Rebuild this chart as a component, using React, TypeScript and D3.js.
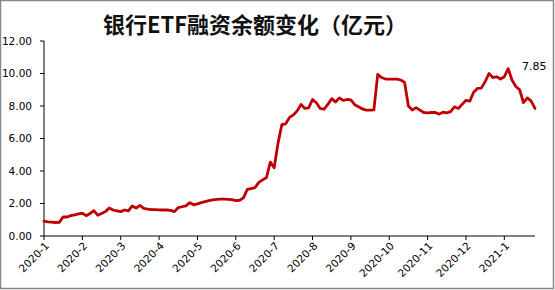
import React from "react";
import * as d3 from "d3";

const title = "银行ETF融资余额变化（亿元）";
const monthLabels = [
  "2020-1", "2020-2", "2020-3", "2020-4", "2020-5", "2020-6", "2020-7",
  "2020-8", "2020-9", "2020-10", "2020-11", "2020-12", "2021-1",
];
const yTicks = [0, 2, 4, 6, 8, 10, 12];
const balance = [
  0.92, 0.87, 0.85, 0.83, 0.84, 1.18, 1.17, 1.25, 1.3, 1.36,
  1.4, 1.25, 1.38, 1.56, 1.28, 1.38, 1.5, 1.72, 1.6, 1.55,
  1.5, 1.6, 1.55, 1.85, 1.72, 1.88, 1.7, 1.65, 1.62, 1.62,
  1.61, 1.6, 1.6, 1.58, 1.5, 1.75, 1.8, 1.85, 2.05, 1.92,
  1.98, 2.05, 2.12, 2.18, 2.22, 2.25, 2.27, 2.27, 2.26, 2.24,
  2.18, 2.2, 2.35, 2.87, 2.92, 2.97, 3.3, 3.45, 3.6, 4.55,
  4.2, 5.7, 6.85, 6.9, 7.3, 7.45, 7.7, 8.1, 7.85, 7.88,
  8.4, 8.2, 7.85, 7.8, 8.1, 8.45, 8.25, 8.5, 8.35, 8.4,
  8.38, 8.08, 7.95, 7.82, 7.75, 7.75, 7.76, 9.95, 9.75, 9.66,
  9.66, 9.66, 9.65, 9.6, 9.45, 8.0, 7.75, 7.9, 7.75, 7.6,
  7.58, 7.6, 7.6, 7.5, 7.62, 7.58, 7.65, 7.95, 7.85, 8.1,
  8.35, 8.3, 8.85, 9.08, 9.1, 9.5, 10.0, 9.75, 9.8, 9.66,
  9.8, 10.3, 9.6, 9.2, 9.0, 8.2, 8.5, 8.3, 7.85,
];
const lastLabel = "7.85";
const pointsPerMonth = 10;

const W = 555;
const H = 290;
const left = 44;
const right = 535;
const top = 41;
const bottom = 236;

export default function App() {
  const x = d3.scaleLinear().domain([0, balance.length - 1]).range([left, right]);
  const y = d3.scaleLinear().domain([0, 12]).range([bottom, top]);
  const line = d3
    .line<number>()
    .x((_, i) => x(i))
    .y((d) => y(d));
  const font = "Tahoma, 'DejaVu Sans', sans-serif";
  const lastI = balance.length - 1;

  return (
    <svg
      width={W}
      height={H}
      style={{ position: "absolute", left: 0, top: 0, background: "#fff" }}
    >
      <rect x={0.5} y={0.5} width={553} height={288} fill="#fff" stroke="#888" strokeWidth={1.5} />
      <text
        x={255}
        y={33}
        textAnchor="middle"
        fontFamily="'Noto Sans CJK SC', sans-serif"
        fontWeight={700}
        fontSize={22}
        fill="#111"
      >
        {title}
      </text>
      {/* y axis */}
      <line x1={left} x2={left} y1={top} y2={bottom} stroke="#000" strokeWidth={1} />
      {yTicks.map((t) => (
        <g key={t}>
          <line x1={left - 4} x2={left} y1={y(t)} y2={y(t)} stroke="#000" />
          <text
            x={32}
            y={y(t)}
            dy="0.35em"
            textAnchor="end"
            fontFamily={font}
            fontSize={10.5}
            fill="#000"
          >
            {t.toFixed(2)}
          </text>
        </g>
      ))}
      {/* x axis */}
      <line x1={left} x2={right} y1={bottom} y2={bottom} stroke="#000" strokeWidth={1} />
      {monthLabels.map((m, k) => {
        const xi = x(k * pointsPerMonth);
        return (
          <g key={m}>
            <line x1={xi} x2={xi} y1={bottom} y2={bottom + 4} stroke="#000" />
            <text
              transform={`translate(${xi + 3},${bottom + 8}) rotate(-45)`}
              textAnchor="end"
              dy="0.35em"
              fontFamily={font}
              fontSize={10.5}
              fill="#000"
            >
              {m}
            </text>
          </g>
        );
      })}
      <path
        d={line(balance) ?? ""}
        fill="none"
        stroke="#C00000"
        strokeWidth={2.8}
        strokeLinejoin="round"
        strokeLinecap="round"
      />
      <text
        x={x(lastI) - 13}
        y={y(balance[lastI]) - 42}
        dy="0.35em"
        fontFamily={font}
        fontSize={11}
        fill="#000"
      >
        {lastLabel}
      </text>
    </svg>
  );
}
